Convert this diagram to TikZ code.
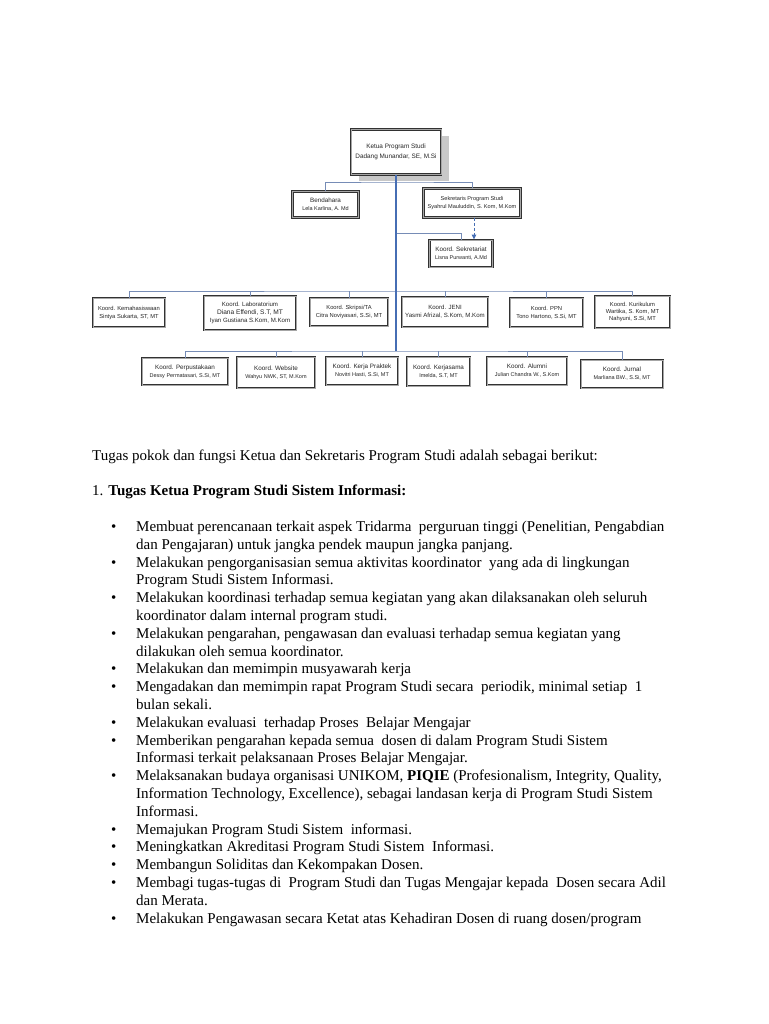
\documentclass[tikz,border=0pt]{standalone}
\usepackage{fontspec}
\setmainfont{Liberation Serif}
\setsansfont{Liberation Sans}
\usetikzlibrary{arrows.meta,shadows}
\definecolor{mainblue}{RGB}{70,110,180}
\definecolor{linkblue}{RGB}{118,140,182}
\definecolor{boxline}{RGB}{50,50,50}
\definecolor{shadowgray}{RGB}{200,200,200}
\newcommand\fsA{\fontsize{6.3}{8}\selectfont}
\newcommand\fsB{\fontsize{5.5}{8}\selectfont}
\begin{document}
\begin{tikzpicture}[x=1pt,y=-1pt,
  obox/.style={draw=boxline, line width=0.9pt, double=black!35, double distance=0.6pt, fill=white, align=center, inner sep=1pt, font=\sffamily\fsA, text=black!85},
  conn/.style={draw=linkblue, line width=0.9pt},
  trunk/.style={draw=mainblue, line width=1.3pt},
  txt/.style={anchor=base west, inner sep=0pt, font=\fontsize{15}{18}\selectfont},
]
\useasboundingbox (0,0) rectangle (768,1024);

% ---------- org chart ----------
\node[obox, minimum width=90pt, minimum height=45pt, font=\sffamily\fontsize{6.4}{10}\selectfont,
      drop shadow={shadow xshift=8pt, shadow yshift=-7pt, fill=shadowgray, opacity=1}]
  (ketua) at (396,152) {Ketua Program Studi\\Dadang Munandar, SE, M.Si};
\node[obox, minimum width=66pt, minimum height=26pt] (ben) at (325.5,204.5) {Bendahara\\\fsB Lela Karlina, A. Md};
\node[obox, minimum width=97pt, minimum height=29pt, font=\sffamily\fontsize{5.6}{8.5}\selectfont] (sek) at (472,203) {Sekretaris Program Studi\\Syahrul Mauluddin, S. Kom, M.Kom};
\node[obox, minimum width=63pt, minimum height=27pt] (sekr) at (461,253.5) {Koord. Sekretariat\\\fsB Lisna Purwanti, A.Md};

% row 1
\node[obox, minimum width=72pt, minimum height=29pt, font=\sffamily\fontsize{5.8}{8}\selectfont] (b1) at (129,312.5) {Koord. Kemahasiswaan\\Sintya Sukarta, ST, MT};
\node[obox, minimum width=92pt, minimum height=34pt, font=\sffamily\fontsize{6.1}{7.8}\selectfont] (b2) at (250,313) {Koord. Laboratorium\\\fontsize{6.6}{7.8}\selectfont Diana Effendi, S.T, MT\\\fontsize{6.1}{7.8}\selectfont Iyan Gustiana S.Kom, M.Kom};
\node[obox, minimum width=78pt, minimum height=28pt, font=\sffamily\fontsize{5.8}{8}\selectfont] (b3) at (349,312) {Koord. Skripsi/TA\\Citra Noviyasari, S.Si, MT};
\node[obox, minimum width=86pt, minimum height=30pt, font=\sffamily\fontsize{6.1}{8}\selectfont] (b4) at (445,312) {Koord. JENI\\Yasmi Afrizal, S.Kom, M.Kom};
\node[obox, minimum width=73pt, minimum height=29pt, font=\sffamily\fontsize{5.8}{8}\selectfont] (b5) at (546.5,312.5) {Koord. PPN\\Tono Hartono, S.Si, MT};
\node[obox, minimum width=75pt, minimum height=32pt, font=\sffamily\fontsize{5.8}{7.4}\selectfont] (b6) at (632.5,312) {Koord. Kurikulum\\Wartika, S. Kom, MT\\Nahyuni, S.Si, MT};

% row 2
\node[obox, minimum width=86pt, minimum height=27pt] (c1) at (185,371.5) {Koord. Perpustakaan\\\fsB Dessy Permatasari, S.Si, MT};
\node[obox, minimum width=78pt, minimum height=31pt] (c2) at (276,372.5) {Koord. Website\\\fsB Wahyu NWK, ST, M.Kom};
\node[obox, minimum width=72pt, minimum height=28pt] (c3) at (362,371) {Koord. Kerja Praktek\\\fsB Novitri Hasti, S.Si, MT};
\node[obox, minimum width=63pt, minimum height=29pt] (c4) at (438.5,371.5) {Koord. Kerjasama\\\fsB Imelda, S.T, MT};
\node[obox, minimum width=80pt, minimum height=28pt] (c5) at (527,371) {Koord. Alumni\\\fsB Julian Chandra W., S.Kom};
\node[obox, minimum width=82pt, minimum height=28pt] (c6) at (622,374) {Koord. Jurnal\\\fsB Marliana BW., S.Si, MT};

\coordinate (h1) at (396,182);
\coordinate (h2) at (396,233);
\coordinate (r1) at (396,291);
\coordinate (r2) at (396,351);
\coordinate (ax) at (474,0);

\draw[conn] (ben.north) |- (h1) -| (sek.north);
\draw[conn] (h2) -| (sekr.north);
\draw[conn, draw=mainblue, dash pattern=on 3pt off 2pt, -{Triangle[length=5pt,width=4.5pt]}] (sek.south -| ax) -- (sekr.north -| ax);
\draw[conn] (b1.north) |- (r1) -| (b6.north);
\foreach \b in {b2,b3,b4,b5} \draw[conn] (\b.north) -- (\b.north |- r1);
\draw[conn] (c1.north) |- (r2) -| (c6.north);
\foreach \c in {c2,c3,c4,c5} \draw[conn] (\c.north) -- (\c.north |- r2);
\draw[trunk] (ketua.south) -- (r2);

% ---------- body text ----------
\node[txt] (intro) at (92,460) {Tugas pokok dan fungsi Ketua dan Sekretaris Program Studi adalah sebagai berikut:};
\node[txt] (head) at (92,495) {1. \textbf{Tugas Ketua Program Studi Sistem Informasi:}};

\foreach \i/\y in {k0/531.5,k2/567.1,k4/602.7,k6/638.3,k8/673.9,k9/691.7,k11/727.3,k12/745.1,k14/780.7,k17/834.1,k18/851.9,k19/869.7,k20/887.5,k22/923.1}
  \node[txt] (\i) at (111,\y) {•};

\node[txt] (t0) at (136,531.5) {Membuat perencanaan terkait aspek Tridarma\ \ perguruan tinggi (Penelitian, Pengabdian};
\node[txt] (t1) at (136,549.3) {dan Pengajaran) untuk jangka pendek maupun jangka panjang.};
\node[txt] (t2) at (136,567.1) {Melakukan pengorganisasian semua aktivitas koordinator\ \ yang ada di lingkungan};
\node[txt] (t3) at (136,584.9) {Program Studi Sistem Informasi.};
\node[txt] (t4) at (136,602.7) {Melakukan koordinasi terhadap semua kegiatan yang akan dilaksanakan oleh seluruh};
\node[txt] (t5) at (136,620.5) {koordinator dalam internal program studi.};
\node[txt] (t6) at (136,638.3) {Melakukan pengarahan, pengawasan dan evaluasi terhadap semua kegiatan yang};
\node[txt] (t7) at (136,656.1) {dilakukan oleh semua koordinator.};
\node[txt] (t8) at (136,673.9) {Melakukan dan memimpin musyawarah kerja};
\node[txt] (t9) at (136,691.7) {Mengadakan dan memimpin rapat Program Studi secara\ \ periodik, minimal setiap\ \ 1};
\node[txt] (t10) at (136,709.5) {bulan sekali.};
\node[txt] (t11) at (136,727.3) {Melakukan evaluasi\ \ terhadap Proses\ \ Belajar Mengajar};
\node[txt] (t12) at (136,745.1) {Memberikan pengarahan kepada semua\ \ dosen di dalam Program Studi Sistem};
\node[txt] (t13) at (136,762.9) {Informasi terkait pelaksanaan Proses Belajar Mengajar.};
\node[txt] (t14) at (136,780.7) {Melaksanakan budaya organisasi UNIKOM, \textbf{PIQIE} (Profesionalism, Integrity, Quality,};
\node[txt] (t15) at (136,798.5) {Information Technology, Excellence), sebagai landasan kerja di Program Studi Sistem};
\node[txt] (t16) at (136,816.3) {Informasi.};
\node[txt] (t17) at (136,834.1) {Memajukan Program Studi Sistem\ \ informasi.};
\node[txt] (t18) at (136,851.9) {Meningkatkan Akreditasi Program Studi Sistem\ \ Informasi.};
\node[txt] (t19) at (136,869.7) {Membangun Soliditas dan Kekompakan Dosen.};
\node[txt] (t20) at (136,887.5) {Membagi tugas-tugas di\ \ Program Studi dan Tugas Mengajar kepada\ \ Dosen secara Adil};
\node[txt] (t21) at (136,905.3) {dan Merata.};
\node[txt] (t22) at (136,923.1) {Melakukan Pengawasan secara Ketat atas Kehadiran Dosen di ruang dosen/program};
\end{tikzpicture}
\end{document}
